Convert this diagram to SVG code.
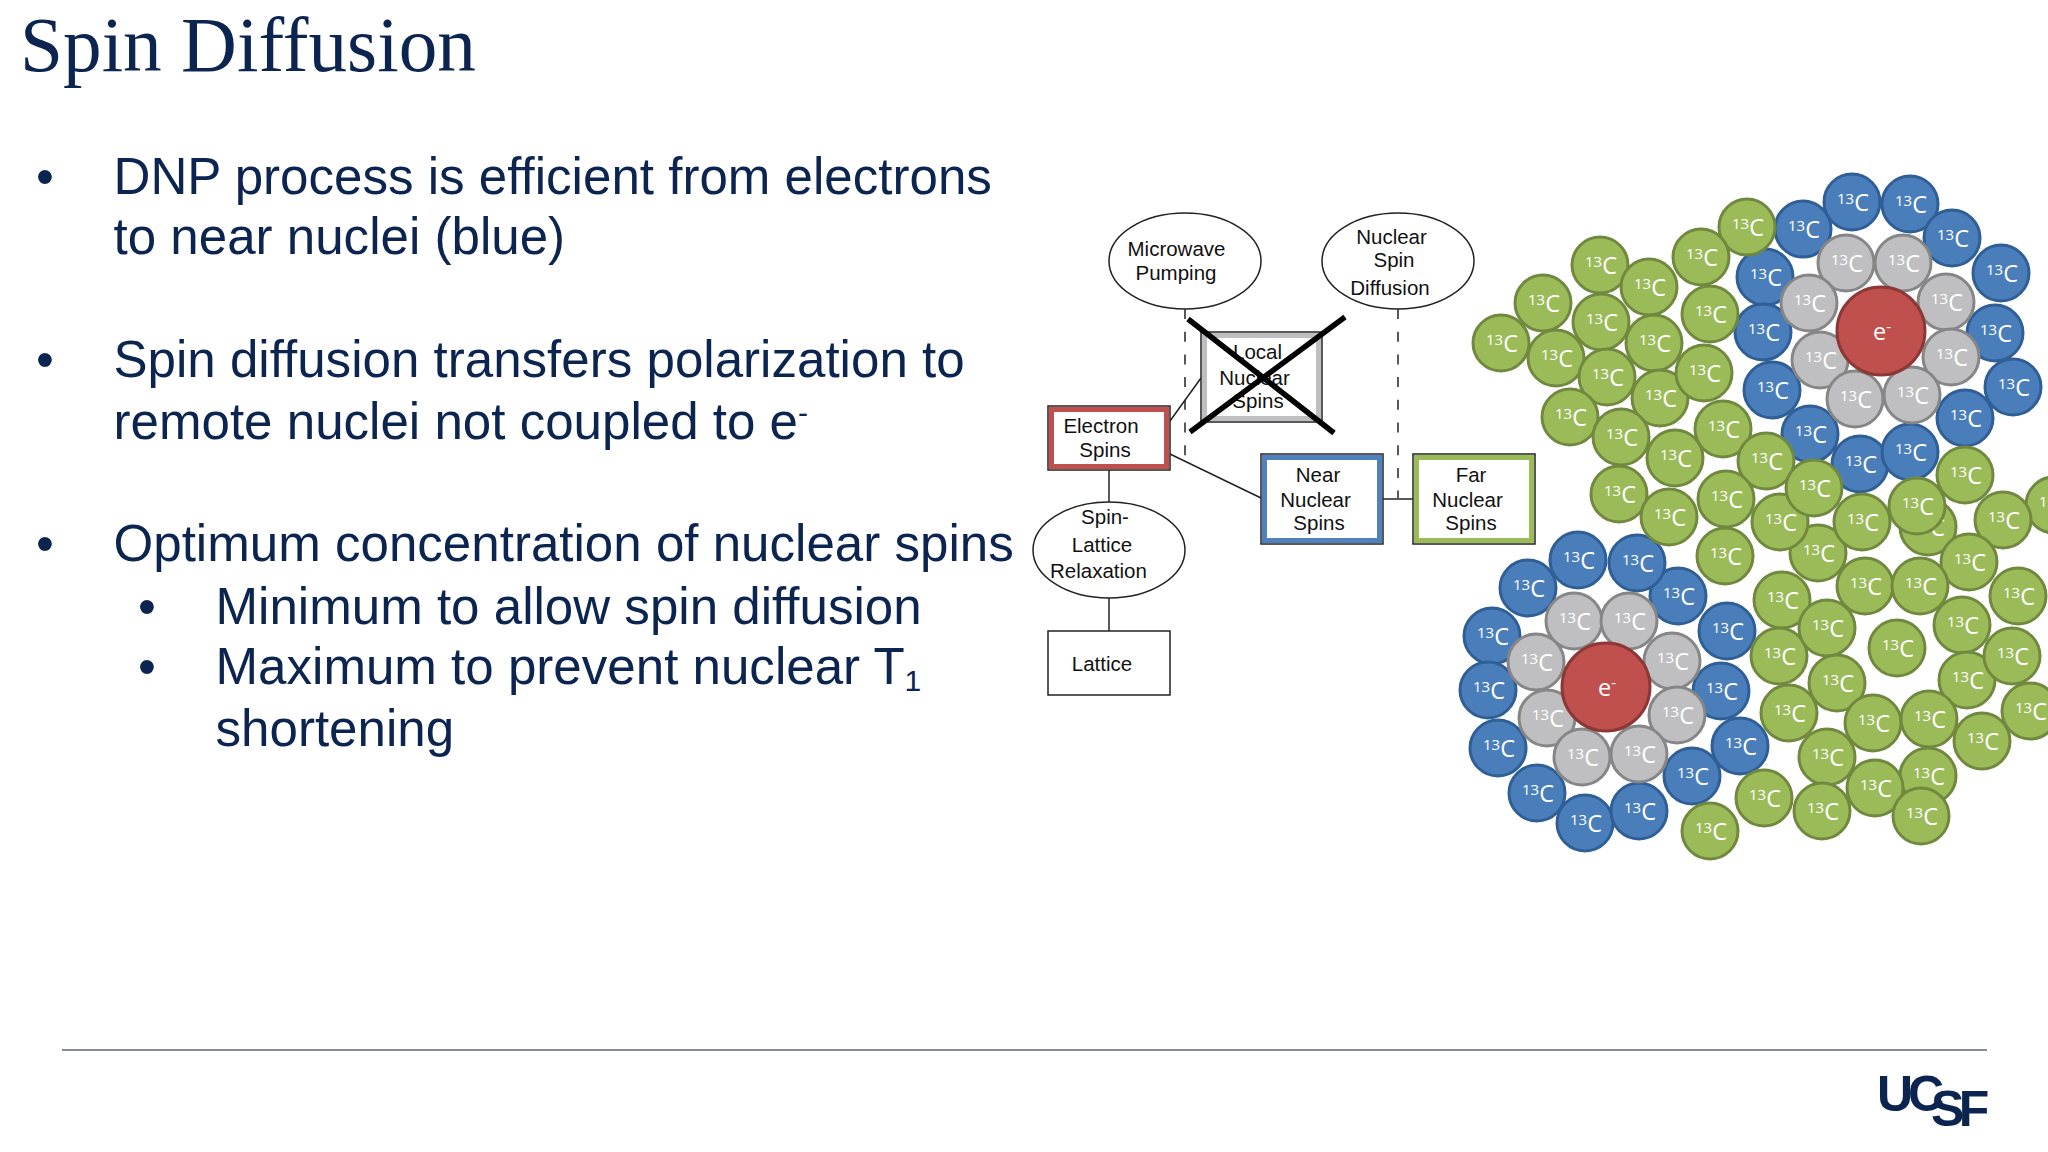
<svg xmlns="http://www.w3.org/2000/svg" width="2048" height="1152" viewBox="0 0 2048 1152">
<style>
text{font-family:"Liberation Sans",Arial,sans-serif}
.ti{font-family:"Liberation Serif","Times New Roman",serif;font-size:77.3px;fill:#0b2450}
.b{font-size:51.1px;fill:#0b2450}
.n{font-size:20.5px;fill:#111;text-anchor:middle}
.sh{fill:#fff;stroke:#222;stroke-width:1.5}
.in{fill:#fff;stroke-width:5}
.cn{stroke:#222;stroke-width:1.5;fill:none}
.da{stroke:#222;stroke-width:1.5;fill:none;stroke-dasharray:10 12.7}
.x{stroke:#000;stroke-width:5.5;fill:none}
.c circle{stroke-width:3}
.c text{font-family:"Open Sans",sans-serif;font-size:23.5px;fill:#fff;text-anchor:middle;transform:translate(1px,0)}
.c tspan.s{font-size:15px}
.bl circle{fill:#4a7ebb;stroke:#2f5f96}
.gr circle{fill:#9bbb59;stroke:#71893f}
.gy circle{fill:#bfbfc1;stroke:#868686}
.rd circle{fill:#c0504d;stroke:#8c3836}
</style>
<rect width="2048" height="1152" fill="#fff"/>
<text class="ti" x="20" y="71">Spin Diffusion</text>
<g id="bullets" class="b">
<text x="36" y="193.5">•</text><text x="113.5" y="193.5">DNP process is efficient from electrons</text>
<text x="113.5" y="253.5">to near nuclei (blue)</text>
<text x="36" y="376.5">•</text><text x="113.5" y="376.5">Spin diffusion transfers polarization to</text>
<text x="113.5" y="438.5">remote nuclei not coupled to e<tspan font-size="30" dy="-16">-</tspan></text>
<text x="36" y="560.5">•</text><text x="113.5" y="560.5">Optimum concentration of nuclear spins</text>
<text x="138" y="623.5">•</text><text x="215.5" y="623.5">Minimum to allow spin diffusion</text>
<text x="138" y="683.5">•</text><text x="215.5" y="683.5">Maximum to prevent nuclear T<tspan font-size="30" dy="7">1</tspan></text>
<text x="215.5" y="745.5">shortening</text>
</g>
<g id="connectors">
<line class="da" x1="1185" y1="309" x2="1185" y2="457"/>
<line class="da" x1="1398" y1="309" x2="1398" y2="498"/>
<line class="cn" x1="1109" y1="470" x2="1109" y2="502"/>
<line class="cn" x1="1109" y1="598" x2="1109" y2="631"/>
<line class="cn" x1="1170" y1="421" x2="1201" y2="378"/>
<line class="cn" x1="1170" y1="454" x2="1261" y2="498"/>
<line class="cn" x1="1383" y1="499" x2="1413" y2="499"/>
</g>
<g id="microwave"><ellipse class="sh" cx="1185" cy="261" rx="76" ry="48"/><text class="n" x="1176.5" y="256">Microwave</text><text class="n" x="1176" y="280">Pumping</text></g>
<g id="spindiffusion"><ellipse class="sh" cx="1398" cy="261" rx="76" ry="48"/><text class="n" x="1391.5" y="244">Nuclear</text><text class="n" x="1394" y="267">Spin</text><text class="n" x="1390" y="295">Diffusion</text></g>
<g id="relaxation"><ellipse class="sh" cx="1109" cy="550" rx="76" ry="48"/><text class="n" x="1105" y="523.5">Spin-</text><text class="n" x="1102" y="552">Lattice</text><text class="n" x="1098.5" y="578">Relaxation</text></g>
<g id="electron"><rect class="sh" x="1048" y="406" width="122" height="64"/><rect class="in" x="1051.5" y="409.5" width="115" height="57" stroke="#c0504d"/><text class="n" x="1101" y="433">Electron</text><text class="n" x="1105" y="456.5">Spins</text></g>
<g id="local"><rect class="sh" x="1201" y="332" width="121" height="90"/><rect class="in" x="1204.5" y="335.5" width="114" height="83" stroke="#bfbfc1"/><text class="n" x="1257.5" y="359">Local</text><text class="n" x="1254.5" y="385">Nuclear</text><text class="n" x="1258" y="408">Spins</text></g>
<g id="near"><rect class="sh" x="1261" y="454" width="122" height="90"/><rect class="in" x="1264.5" y="457.5" width="115" height="83" stroke="#4f81bd"/><text class="n" x="1318" y="481.5">Near</text><text class="n" x="1315.5" y="507">Nuclear</text><text class="n" x="1319" y="530">Spins</text></g>
<g id="far"><rect class="sh" x="1413" y="454" width="122" height="90"/><rect class="in" x="1416.5" y="457.5" width="115" height="83" stroke="#9bbb59"/><text class="n" x="1471" y="481.5">Far</text><text class="n" x="1467.5" y="507">Nuclear</text><text class="n" x="1471" y="530">Spins</text></g>
<g id="lattice"><rect class="sh" x="1048" y="631" width="122" height="64"/><text class="n" x="1102" y="671">Lattice</text></g>
<g id="cross"><line class="x" x1="1188" y1="319" x2="1334" y2="433"/><line class="x" x1="1345" y1="317" x2="1190" y2="432"/></g>
<g id="cluster1" class="c">
<g class="bl"><circle cx="1852" cy="202" r="28"/><text x="1852" y="211"><tspan class="s" dy="-7">13</tspan><tspan dy="7">C</tspan></text></g>
<g class="bl"><circle cx="1910" cy="204" r="28"/><text x="1910" y="213"><tspan class="s" dy="-7">13</tspan><tspan dy="7">C</tspan></text></g>
<g class="bl"><circle cx="1803" cy="229" r="28"/><text x="1803" y="238"><tspan class="s" dy="-7">13</tspan><tspan dy="7">C</tspan></text></g>
<g class="bl"><circle cx="1952" cy="238" r="28"/><text x="1952" y="247"><tspan class="s" dy="-7">13</tspan><tspan dy="7">C</tspan></text></g>
<g class="bl"><circle cx="2001" cy="273" r="28"/><text x="2001" y="282"><tspan class="s" dy="-7">13</tspan><tspan dy="7">C</tspan></text></g>
<g class="bl"><circle cx="1765" cy="277" r="28"/><text x="1765" y="286"><tspan class="s" dy="-7">13</tspan><tspan dy="7">C</tspan></text></g>
<g class="bl"><circle cx="1763" cy="332" r="28"/><text x="1763" y="341"><tspan class="s" dy="-7">13</tspan><tspan dy="7">C</tspan></text></g>
<g class="bl"><circle cx="1995" cy="333" r="28"/><text x="1995" y="342"><tspan class="s" dy="-7">13</tspan><tspan dy="7">C</tspan></text></g>
<g class="bl"><circle cx="2013" cy="387" r="28"/><text x="2013" y="396"><tspan class="s" dy="-7">13</tspan><tspan dy="7">C</tspan></text></g>
<g class="bl"><circle cx="1772" cy="390" r="28"/><text x="1772" y="399"><tspan class="s" dy="-7">13</tspan><tspan dy="7">C</tspan></text></g>
<g class="bl"><circle cx="1965" cy="418" r="28"/><text x="1965" y="427"><tspan class="s" dy="-7">13</tspan><tspan dy="7">C</tspan></text></g>
<g class="bl"><circle cx="1810" cy="434" r="28"/><text x="1810" y="443"><tspan class="s" dy="-7">13</tspan><tspan dy="7">C</tspan></text></g>
<g class="bl"><circle cx="1860" cy="464" r="28"/><text x="1860" y="473"><tspan class="s" dy="-7">13</tspan><tspan dy="7">C</tspan></text></g>
<g class="bl"><circle cx="1910" cy="452" r="28"/><text x="1910" y="461"><tspan class="s" dy="-7">13</tspan><tspan dy="7">C</tspan></text></g>
<g class="gy"><circle cx="1846" cy="263" r="28"/><text x="1846" y="272"><tspan class="s" dy="-7">13</tspan><tspan dy="7">C</tspan></text></g>
<g class="gy"><circle cx="1903" cy="263" r="28"/><text x="1903" y="272"><tspan class="s" dy="-7">13</tspan><tspan dy="7">C</tspan></text></g>
<g class="gy"><circle cx="1809" cy="303" r="28"/><text x="1809" y="312"><tspan class="s" dy="-7">13</tspan><tspan dy="7">C</tspan></text></g>
<g class="gy"><circle cx="1946" cy="302" r="28"/><text x="1946" y="311"><tspan class="s" dy="-7">13</tspan><tspan dy="7">C</tspan></text></g>
<g class="gy"><circle cx="1820" cy="360" r="28"/><text x="1820" y="369"><tspan class="s" dy="-7">13</tspan><tspan dy="7">C</tspan></text></g>
<g class="gy"><circle cx="1951" cy="357" r="28"/><text x="1951" y="366"><tspan class="s" dy="-7">13</tspan><tspan dy="7">C</tspan></text></g>
<g class="gy"><circle cx="1855" cy="399" r="28"/><text x="1855" y="408"><tspan class="s" dy="-7">13</tspan><tspan dy="7">C</tspan></text></g>
<g class="gy"><circle cx="1912" cy="395" r="28"/><text x="1912" y="404"><tspan class="s" dy="-7">13</tspan><tspan dy="7">C</tspan></text></g>
<g class="rd"><circle cx="1881" cy="331" r="44"/><text x="1881" y="340">e<tspan class="s" dy="-8">-</tspan></text></g>
</g>
<g id="cluster2" class="c">
<g class="bl"><circle cx="1578" cy="560" r="28"/><text x="1578" y="569"><tspan class="s" dy="-7">13</tspan><tspan dy="7">C</tspan></text></g>
<g class="bl"><circle cx="1678" cy="596" r="28"/><text x="1678" y="605"><tspan class="s" dy="-7">13</tspan><tspan dy="7">C</tspan></text></g>
<g class="bl"><circle cx="1637" cy="563" r="28"/><text x="1637" y="572"><tspan class="s" dy="-7">13</tspan><tspan dy="7">C</tspan></text></g>
<g class="bl"><circle cx="1528" cy="588" r="28"/><text x="1528" y="597"><tspan class="s" dy="-7">13</tspan><tspan dy="7">C</tspan></text></g>
<g class="bl"><circle cx="1492" cy="636" r="28"/><text x="1492" y="645"><tspan class="s" dy="-7">13</tspan><tspan dy="7">C</tspan></text></g>
<g class="bl"><circle cx="1727" cy="631" r="28"/><text x="1727" y="640"><tspan class="s" dy="-7">13</tspan><tspan dy="7">C</tspan></text></g>
<g class="bl"><circle cx="1488" cy="690" r="28"/><text x="1488" y="699"><tspan class="s" dy="-7">13</tspan><tspan dy="7">C</tspan></text></g>
<g class="bl"><circle cx="1740" cy="746" r="28"/><text x="1740" y="755"><tspan class="s" dy="-7">13</tspan><tspan dy="7">C</tspan></text></g>
<g class="bl"><circle cx="1721" cy="691" r="28"/><text x="1721" y="700"><tspan class="s" dy="-7">13</tspan><tspan dy="7">C</tspan></text></g>
<g class="bl"><circle cx="1498" cy="748" r="28"/><text x="1498" y="757"><tspan class="s" dy="-7">13</tspan><tspan dy="7">C</tspan></text></g>
<g class="bl"><circle cx="1692" cy="776" r="28"/><text x="1692" y="785"><tspan class="s" dy="-7">13</tspan><tspan dy="7">C</tspan></text></g>
<g class="bl"><circle cx="1537" cy="793" r="28"/><text x="1537" y="802"><tspan class="s" dy="-7">13</tspan><tspan dy="7">C</tspan></text></g>
<g class="bl"><circle cx="1585" cy="823" r="28"/><text x="1585" y="832"><tspan class="s" dy="-7">13</tspan><tspan dy="7">C</tspan></text></g>
<g class="bl"><circle cx="1639" cy="811" r="28"/><text x="1639" y="820"><tspan class="s" dy="-7">13</tspan><tspan dy="7">C</tspan></text></g>
<g class="gy"><circle cx="1574" cy="621" r="28"/><text x="1574" y="630"><tspan class="s" dy="-7">13</tspan><tspan dy="7">C</tspan></text></g>
<g class="gy"><circle cx="1629" cy="621" r="28"/><text x="1629" y="630"><tspan class="s" dy="-7">13</tspan><tspan dy="7">C</tspan></text></g>
<g class="gy"><circle cx="1536" cy="662" r="28"/><text x="1536" y="671"><tspan class="s" dy="-7">13</tspan><tspan dy="7">C</tspan></text></g>
<g class="gy"><circle cx="1672" cy="661" r="28"/><text x="1672" y="670"><tspan class="s" dy="-7">13</tspan><tspan dy="7">C</tspan></text></g>
<g class="gy"><circle cx="1547" cy="718" r="28"/><text x="1547" y="727"><tspan class="s" dy="-7">13</tspan><tspan dy="7">C</tspan></text></g>
<g class="gy"><circle cx="1677" cy="715" r="28"/><text x="1677" y="724"><tspan class="s" dy="-7">13</tspan><tspan dy="7">C</tspan></text></g>
<g class="gy"><circle cx="1582" cy="757" r="28"/><text x="1582" y="766"><tspan class="s" dy="-7">13</tspan><tspan dy="7">C</tspan></text></g>
<g class="gy"><circle cx="1639" cy="754" r="28"/><text x="1639" y="763"><tspan class="s" dy="-7">13</tspan><tspan dy="7">C</tspan></text></g>
<g class="rd"><circle cx="1606" cy="687" r="44"/><text x="1606" y="696">e<tspan class="s" dy="-8">-</tspan></text></g>
</g>
<g id="far-nuclei" class="c gr">
<g><circle cx="1747" cy="227" r="28"/><text x="1747" y="236"><tspan class="s" dy="-7">13</tspan><tspan dy="7">C</tspan></text></g>
<g><circle cx="1701" cy="257" r="28"/><text x="1701" y="266"><tspan class="s" dy="-7">13</tspan><tspan dy="7">C</tspan></text></g>
<g><circle cx="1600" cy="265" r="28"/><text x="1600" y="274"><tspan class="s" dy="-7">13</tspan><tspan dy="7">C</tspan></text></g>
<g><circle cx="1649" cy="287" r="28"/><text x="1649" y="296"><tspan class="s" dy="-7">13</tspan><tspan dy="7">C</tspan></text></g>
<g><circle cx="1543" cy="303" r="28"/><text x="1543" y="312"><tspan class="s" dy="-7">13</tspan><tspan dy="7">C</tspan></text></g>
<g><circle cx="1601" cy="322" r="28"/><text x="1601" y="331"><tspan class="s" dy="-7">13</tspan><tspan dy="7">C</tspan></text></g>
<g><circle cx="1710" cy="314" r="28"/><text x="1710" y="323"><tspan class="s" dy="-7">13</tspan><tspan dy="7">C</tspan></text></g>
<g><circle cx="1501" cy="343" r="28"/><text x="1501" y="352"><tspan class="s" dy="-7">13</tspan><tspan dy="7">C</tspan></text></g>
<g><circle cx="1654" cy="343" r="28"/><text x="1654" y="352"><tspan class="s" dy="-7">13</tspan><tspan dy="7">C</tspan></text></g>
<g><circle cx="1556" cy="358" r="28"/><text x="1556" y="367"><tspan class="s" dy="-7">13</tspan><tspan dy="7">C</tspan></text></g>
<g><circle cx="1607" cy="377" r="28"/><text x="1607" y="386"><tspan class="s" dy="-7">13</tspan><tspan dy="7">C</tspan></text></g>
<g><circle cx="1660" cy="398" r="28"/><text x="1660" y="407"><tspan class="s" dy="-7">13</tspan><tspan dy="7">C</tspan></text></g>
<g><circle cx="1704" cy="373" r="28"/><text x="1704" y="382"><tspan class="s" dy="-7">13</tspan><tspan dy="7">C</tspan></text></g>
<g><circle cx="1570" cy="417" r="28"/><text x="1570" y="426"><tspan class="s" dy="-7">13</tspan><tspan dy="7">C</tspan></text></g>
<g><circle cx="1723" cy="429" r="28"/><text x="1723" y="438"><tspan class="s" dy="-7">13</tspan><tspan dy="7">C</tspan></text></g>
<g><circle cx="1621" cy="437" r="28"/><text x="1621" y="446"><tspan class="s" dy="-7">13</tspan><tspan dy="7">C</tspan></text></g>
<g><circle cx="1675" cy="458" r="28"/><text x="1675" y="467"><tspan class="s" dy="-7">13</tspan><tspan dy="7">C</tspan></text></g>
<g><circle cx="1766" cy="461" r="28"/><text x="1766" y="470"><tspan class="s" dy="-7">13</tspan><tspan dy="7">C</tspan></text></g>
<g><circle cx="1619" cy="494" r="28"/><text x="1619" y="503"><tspan class="s" dy="-7">13</tspan><tspan dy="7">C</tspan></text></g>
<g><circle cx="1726" cy="499" r="28"/><text x="1726" y="508"><tspan class="s" dy="-7">13</tspan><tspan dy="7">C</tspan></text></g>
<g><circle cx="1669" cy="517" r="28"/><text x="1669" y="526"><tspan class="s" dy="-7">13</tspan><tspan dy="7">C</tspan></text></g>
<g><circle cx="1818" cy="553" r="28"/><text x="1818" y="562"><tspan class="s" dy="-7">13</tspan><tspan dy="7">C</tspan></text></g>
<g><circle cx="1780" cy="522" r="28"/><text x="1780" y="531"><tspan class="s" dy="-7">13</tspan><tspan dy="7">C</tspan></text></g>
<g><circle cx="1814" cy="488" r="28"/><text x="1814" y="497"><tspan class="s" dy="-7">13</tspan><tspan dy="7">C</tspan></text></g>
<g><circle cx="1862" cy="522" r="28"/><text x="1862" y="531"><tspan class="s" dy="-7">13</tspan><tspan dy="7">C</tspan></text></g>
<g><circle cx="1928" cy="527" r="28"/><text x="1928" y="536"><tspan class="s" dy="-7">13</tspan><tspan dy="7">C</tspan></text></g>
<g><circle cx="1917" cy="506" r="28"/><text x="1917" y="515"><tspan class="s" dy="-7">13</tspan><tspan dy="7">C</tspan></text></g>
<g><circle cx="1965" cy="475" r="28"/><text x="1965" y="484"><tspan class="s" dy="-7">13</tspan><tspan dy="7">C</tspan></text></g>
<g><circle cx="2054" cy="505" r="28"/><text x="2054" y="514"><tspan class="s" dy="-7">13</tspan><tspan dy="7">C</tspan></text></g>
<g><circle cx="2003" cy="520" r="28"/><text x="2003" y="529"><tspan class="s" dy="-7">13</tspan><tspan dy="7">C</tspan></text></g>
<g><circle cx="1725" cy="556" r="28"/><text x="1725" y="565"><tspan class="s" dy="-7">13</tspan><tspan dy="7">C</tspan></text></g>
<g><circle cx="1969" cy="562" r="28"/><text x="1969" y="571"><tspan class="s" dy="-7">13</tspan><tspan dy="7">C</tspan></text></g>
<g><circle cx="2018" cy="596" r="28"/><text x="2018" y="605"><tspan class="s" dy="-7">13</tspan><tspan dy="7">C</tspan></text></g>
<g><circle cx="1865" cy="586" r="28"/><text x="1865" y="595"><tspan class="s" dy="-7">13</tspan><tspan dy="7">C</tspan></text></g>
<g><circle cx="1920" cy="586" r="28"/><text x="1920" y="595"><tspan class="s" dy="-7">13</tspan><tspan dy="7">C</tspan></text></g>
<g><circle cx="1782" cy="600" r="28"/><text x="1782" y="609"><tspan class="s" dy="-7">13</tspan><tspan dy="7">C</tspan></text></g>
<g><circle cx="1779" cy="656" r="28"/><text x="1779" y="665"><tspan class="s" dy="-7">13</tspan><tspan dy="7">C</tspan></text></g>
<g><circle cx="1827" cy="628" r="28"/><text x="1827" y="637"><tspan class="s" dy="-7">13</tspan><tspan dy="7">C</tspan></text></g>
<g><circle cx="1962" cy="625" r="28"/><text x="1962" y="634"><tspan class="s" dy="-7">13</tspan><tspan dy="7">C</tspan></text></g>
<g><circle cx="1897" cy="648" r="28"/><text x="1897" y="657"><tspan class="s" dy="-7">13</tspan><tspan dy="7">C</tspan></text></g>
<g><circle cx="1967" cy="680" r="28"/><text x="1967" y="689"><tspan class="s" dy="-7">13</tspan><tspan dy="7">C</tspan></text></g>
<g><circle cx="2012" cy="656" r="28"/><text x="2012" y="665"><tspan class="s" dy="-7">13</tspan><tspan dy="7">C</tspan></text></g>
<g><circle cx="1837" cy="683" r="28"/><text x="1837" y="692"><tspan class="s" dy="-7">13</tspan><tspan dy="7">C</tspan></text></g>
<g><circle cx="2030" cy="711" r="28"/><text x="2030" y="720"><tspan class="s" dy="-7">13</tspan><tspan dy="7">C</tspan></text></g>
<g><circle cx="1789" cy="713" r="28"/><text x="1789" y="722"><tspan class="s" dy="-7">13</tspan><tspan dy="7">C</tspan></text></g>
<g><circle cx="1873" cy="723" r="28"/><text x="1873" y="732"><tspan class="s" dy="-7">13</tspan><tspan dy="7">C</tspan></text></g>
<g><circle cx="1929" cy="719" r="28"/><text x="1929" y="728"><tspan class="s" dy="-7">13</tspan><tspan dy="7">C</tspan></text></g>
<g><circle cx="1982" cy="741" r="28"/><text x="1982" y="750"><tspan class="s" dy="-7">13</tspan><tspan dy="7">C</tspan></text></g>
<g><circle cx="1827" cy="757" r="28"/><text x="1827" y="766"><tspan class="s" dy="-7">13</tspan><tspan dy="7">C</tspan></text></g>
<g><circle cx="1928" cy="776" r="28"/><text x="1928" y="785"><tspan class="s" dy="-7">13</tspan><tspan dy="7">C</tspan></text></g>
<g><circle cx="1875" cy="788" r="28"/><text x="1875" y="797"><tspan class="s" dy="-7">13</tspan><tspan dy="7">C</tspan></text></g>
<g><circle cx="1764" cy="798" r="28"/><text x="1764" y="807"><tspan class="s" dy="-7">13</tspan><tspan dy="7">C</tspan></text></g>
<g><circle cx="1822" cy="811" r="28"/><text x="1822" y="820"><tspan class="s" dy="-7">13</tspan><tspan dy="7">C</tspan></text></g>
<g><circle cx="1921" cy="816" r="28"/><text x="1921" y="825"><tspan class="s" dy="-7">13</tspan><tspan dy="7">C</tspan></text></g>
<g><circle cx="1710" cy="831" r="28"/><text x="1710" y="840"><tspan class="s" dy="-7">13</tspan><tspan dy="7">C</tspan></text></g>
</g>
<line x1="62" y1="1050" x2="1987" y2="1050" stroke="#858b9d" stroke-width="2"/>
<g id="logo" font-weight="700" fill="#0b2450" font-size="50">
<text x="1877" y="1111" letter-spacing="-5">UC</text>
<text x="1931" y="1126" letter-spacing="-5.5">SF</text>
</g>
</svg>
